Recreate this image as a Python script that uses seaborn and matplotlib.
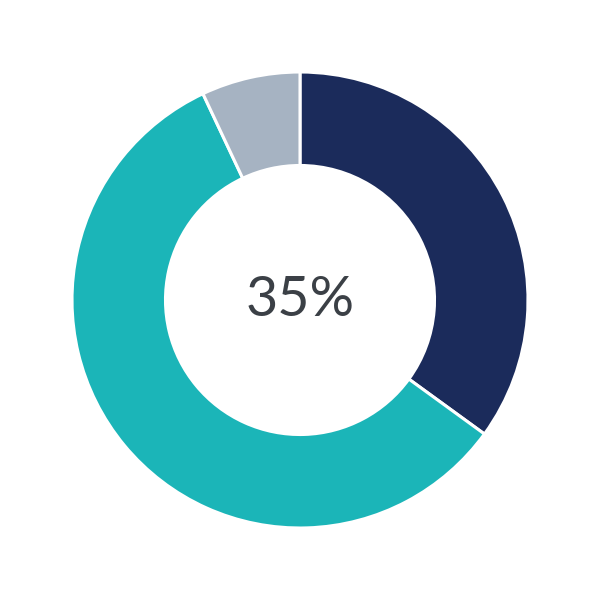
import matplotlib
matplotlib.use("Agg")
import matplotlib.pyplot as plt
import seaborn as sns

sns.set_theme(style="white")
plt.rcParams['font.family'] = ['Lato', 'DejaVu Sans']

labels = ["Navy", "Teal", "Gray"]
shares = [35, 58, 7]
colors = ["#1b2b5b", "#1bb5b8", "#a6b3c2"]
center_label = "35%"

fig = plt.figure(figsize=(6, 6), dpi=100)
ax = fig.add_axes([0, 0, 1, 1])
ax.pie(shares, colors=colors, startangle=90, counterclock=False,
       radius=1, wedgeprops=dict(width=0.41, edgecolor="white", linewidth=2.2))
ax.text(0, 0, center_label, ha="center", va="center", fontsize=40,
        fontweight="normal", color="#3b4046")
lim = 300 / 228
ax.set_xlim(-lim, lim)
ax.set_ylim(-lim, lim)
ax.set_aspect("equal")
ax.axis("off")
fig.savefig("out.png", dpi=100, facecolor="white")
